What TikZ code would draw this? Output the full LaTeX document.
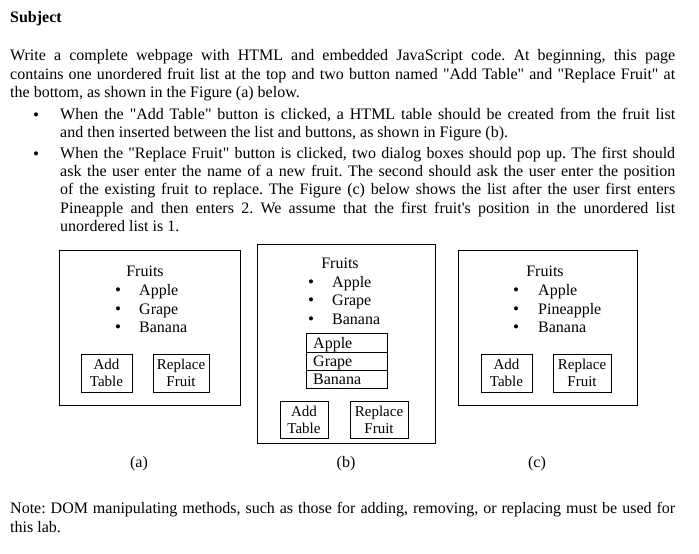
\documentclass[tikz,border=0pt]{standalone}
\usepackage{fontspec}
\setmainfont{Liberation Serif}[Ligatures=TeXOff]
\frenchspacing
\begin{document}
\begin{tikzpicture}[x=1pt,y=-1pt,
  txt/.style={anchor=base west,inner sep=0pt,font=\fontsize{16}{18}\selectfont},
  ctxt/.style={anchor=base,inner sep=0pt,font=\fontsize{16}{18}\selectfont},
  bul/.style={anchor=base west,inner sep=0pt,font=\fontsize{17}{18}\selectfont},
  frame/.style={draw,line width=0.6pt},
  btn/.style={draw,line width=0.6pt,align=center,inner sep=0pt,font=\fontsize{15}{17}\selectfont}]
\useasboundingbox (0,0) rectangle (699,554);
\newcommand{\J}[1]{\makebox[665pt][s]{#1}}
\newcommand{\K}[1]{\makebox[615pt][s]{#1}}
\newcommand{\Q}{"}
\node[txt,font=\fontsize{16}{18}\bfseries] (subj) at (10,22) {Subject};
\node[txt] (l1) at (10,60) {\J{Write a complete webpage with HTML and embedded JavaScript code. At beginning, this page}};
\node[txt] (l2) at (10,79) {\J{contains one unordered fruit list at the top and two button named \Q Add Table\Q{} and \Q Replace Fruit\Q{} at}};
\node[txt] (l3) at (10,97) {the bottom, as shown in the Figure (a) below.};
\node[bul] (b1) at (33,120) {•};
\node[txt] (l4) at (60,119) {\K{When the \Q Add Table\Q{} button is clicked, a HTML table should be created from the fruit list}};
\node[txt] (l5) at (60,137) {and then inserted between the list and buttons, as shown in Figure (b).};
\node[bul] (b2) at (33,159) {•};
\node[txt] (l6) at (60,158) {\K{When the \Q Replace Fruit\Q{} button is clicked, two dialog boxes should pop up. The first should}};
\node[txt] (l7) at (60,176) {\K{ask the user enter the name of a new fruit. The second should ask the user enter the position}};
\node[txt] (l8) at (60,194) {\K{of the existing fruit to replace. The Figure (c) below shows the list after the user first enters}};
\node[txt] (l9) at (60,213) {\K{Pineapple and then enters 2. We assume that the first fruit's position in the unordered list}};
\node[txt] (l10) at (60,231) {unordered list is 1.};
% (a)
\draw[frame] (59,250) rectangle (240,405);
\node[ctxt] (fa) at (145,276) {Fruits};
\foreach \t/\y [count=\i] in {Apple/295,Grape/314,Banana/332}{
  \node[bul] (ba\i) at (115,\y) {•};
  \node[txt] (ta\i) at (139,\y) {\t};}
\node[btn,minimum width=51pt,minimum height=38pt] (adda) at (106.5,373) {Add\\Table};
\node[btn,minimum width=56pt,minimum height=38pt] (repa) at (181,373) {Replace\\Fruit};
% (b)
\draw[frame] (257,244) rectangle (435,443);
\node[ctxt] (fb) at (340,268) {Fruits};
\foreach \t/\y [count=\i] in {Apple/287,Grape/305,Banana/324}{
  \node[bul] (bb\i) at (308,\y) {•};
  \node[txt] (tb\i) at (332,\y) {\t};}
\draw[frame] (306,333) rectangle (387,388);
\draw[frame] (306,352) -- (387,352);
\draw[frame] (306,370) -- (387,370);
\foreach \t/\y [count=\i] in {Apple/348,Grape/366,Banana/384}{
  \node[txt] (tt\i) at (313,\y) {\t};}
\node[btn,minimum width=48pt,minimum height=37pt] (addb) at (304,419.5) {Add\\Table};
\node[btn,minimum width=58pt,minimum height=37pt] (repb) at (379,419.5) {Replace\\Fruit};
% (c)
\draw[frame] (458,250) rectangle (637,405);
\node[ctxt] (fc) at (545,276) {Fruits};
\foreach \t/\y [count=\i] in {Apple/295,Pineapple/314,Banana/332}{
  \node[bul] (bc\i) at (513,\y) {•};
  \node[txt] (tc\i) at (538,\y) {\t};}
\node[btn,minimum width=51pt,minimum height=38pt] (addc) at (506.5,373) {Add\\Table};
\node[btn,minimum width=58pt,minimum height=38pt] (repc) at (582,373) {Replace\\Fruit};
\node[ctxt] (ca) at (139,467) {(a)};
\node[ctxt] (cb) at (346,467) {(b)};
\node[ctxt] (cc) at (537,467) {(c)};
\node[txt] (n1) at (10,513) {\J{Note: DOM manipulating methods, such as those for adding, removing, or replacing must be used for}};
\node[txt] (n2) at (10,532) {this lab.};
\end{tikzpicture}
\end{document}
